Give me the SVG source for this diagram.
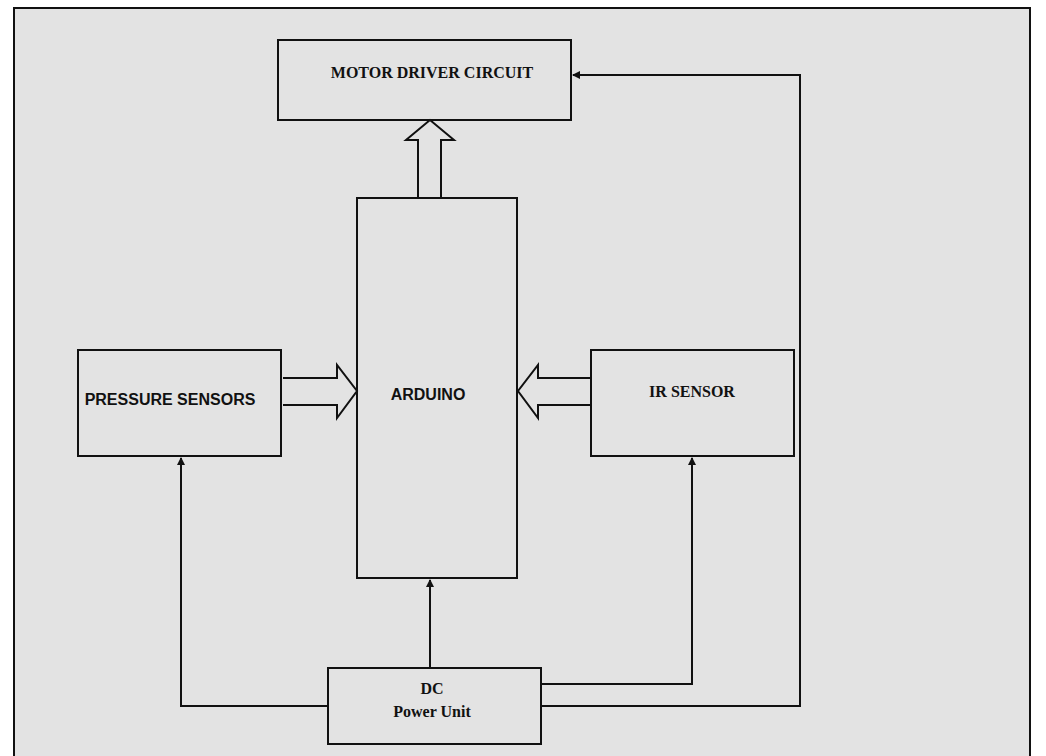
<svg xmlns="http://www.w3.org/2000/svg" width="1046" height="756" viewBox="0 0 1046 756">
<style>
.box{fill:none;stroke:#111;stroke-width:2}
.ln{fill:none;stroke:#111;stroke-width:2}
.ha{fill:#e3e3e3;stroke:#111;stroke-width:2;stroke-linejoin:miter}
.t{font-family:"Liberation Serif",serif;font-size:16px;font-weight:bold;fill:#111;text-anchor:middle}
.s{font-family:"Liberation Sans",sans-serif;font-size:16px;font-weight:bold;fill:#111;text-anchor:middle}
</style>
<defs><marker id="ar" markerWidth="8" markerHeight="8" refX="7" refY="4" orient="auto" markerUnits="userSpaceOnUse"><path d="M0,0 L8,4 L0,8 z" fill="#111"/></marker></defs>
<rect width="1046" height="756" fill="#fff"/>
<rect x="14" y="8" width="1016" height="760" fill="#e3e3e3" stroke="#111" stroke-width="2"/>
<g id="connectors">
<path class="ha" d="M418,198 V140 H406 L430,120 L454,140 H441 V198"/>
<path class="ha" d="M283,378 H337 V365 L357,391 L337,418 V405 H283"/>
<path class="ha" d="M591,378 H538 V365 L518,391 L538,418 V405 H591"/>
<path class="ln" d="M328,706 H181 V458" marker-end="url(#ar)"/>
<path class="ln" d="M430,668 V580" marker-end="url(#ar)"/>
<path class="ln" d="M541,684 H692 V458" marker-end="url(#ar)"/>
<path class="ln" d="M541,706 H800 V75 H573" marker-end="url(#ar)" stroke="#333"/>
</g>
<g id="motor"><rect class="box" x="278" y="40" width="293" height="80"/><text class="t" x="432" y="78">MOTOR DRIVER CIRCUIT</text></g>
<g id="arduino"><rect class="box" x="357" y="198" width="160" height="380"/><text class="s" x="428" y="400">ARDUINO</text></g>
<g id="pressure"><rect class="box" x="78" y="350" width="203" height="106"/><text class="s" x="170" y="405">PRESSURE SENSORS</text></g>
<g id="ir"><rect class="box" x="591" y="350" width="203" height="106"/><text class="t" x="692" y="397">IR SENSOR</text></g>
<g id="dc"><rect class="box" x="328" y="668" width="213" height="76"/><text class="t" x="432" y="694">DC</text><text class="t" x="432" y="717" font-size="15" font-weight="normal">Power Unit</text></g>
</svg>
